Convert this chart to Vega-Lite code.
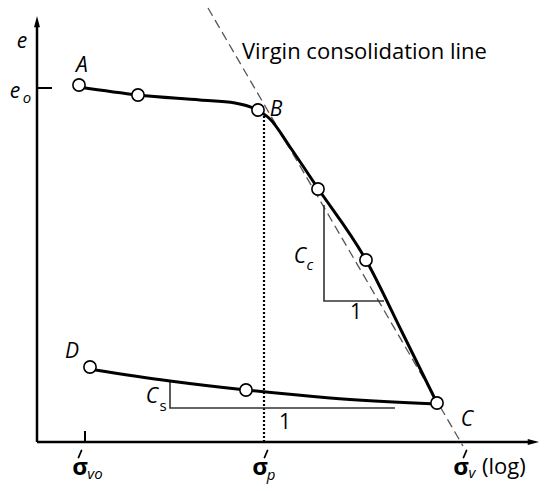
{
  "$schema": "https://vega.github.io/schema/vega-lite/v6.json",
  "width": 550,
  "height": 491,
  "autosize": {"type": "fit", "contains": "padding"},
  "padding": 0,
  "background": "white",
  "config": {"view": {"stroke": null}, "text": {"font": "Open Sans"}},
  "datasets": {
    "axes": [
      {"seg": "y", "o": 1, "x": 0, "y": 0},
      {"seg": "y", "o": 2, "x": 0, "y": 41.5},
      {"seg": "x", "o": 1, "x": 0, "y": 0},
      {"seg": "x", "o": 2, "x": 49.3, "y": 0}
    ],
    "ticks": [
      {"x": 0, "x2": 1.5, "y": 35.4, "y2": 35.4},
      {"x": 4.8, "x2": 4.8, "y": 0, "y2": 1.1}
    ],
    "primes": [
      {"x": 4.45, "y": -0.85, "x2": 4.15, "y2": -1.55},
      {"x": 23.05, "y": -0.85, "x2": 22.75, "y2": -1.55},
      {"x": 42.95, "y": -0.85, "x2": 42.65, "y2": -1.55}
    ],
    "curves": [
      {"b": "load", "x": 4.2, "y": 35.5},
      {"b": "load", "x": 10.1, "y": 34.7},
      {"b": "load", "x": 16.3, "y": 34.2},
      {"b": "load", "x": 19.8, "y": 33.9},
      {"b": "load", "x": 21.8, "y": 33.3},
      {"b": "load", "x": 23.3, "y": 32.3},
      {"b": "load", "x": 25.3, "y": 29.5},
      {"b": "load", "x": 28.0, "y": 25.5},
      {"b": "load", "x": 32.9, "y": 18.2},
      {"b": "load", "x": 36.5, "y": 11.0},
      {"b": "load", "x": 40.0, "y": 3.9},
      {"b": "unload", "x": 5.2, "y": 7.3},
      {"b": "unload", "x": 13.3, "y": 6.1},
      {"b": "unload", "x": 20.9, "y": 5.2},
      {"b": "unload", "x": 29.3, "y": 4.4},
      {"b": "unload", "x": 40.0, "y": 3.8}
    ],
    "tri": [
      {"t": "cc", "o": 1, "x": 28.7, "y": 23.7},
      {"t": "cc", "o": 2, "x": 28.7, "y": 14.1},
      {"t": "cc", "o": 3, "x": 34.7, "y": 14.1},
      {"t": "cs", "o": 1, "x": 13.3, "y": 6.0},
      {"t": "cs", "o": 2, "x": 13.3, "y": 3.4},
      {"t": "cs", "o": 3, "x": 35.8, "y": 3.4}
    ],
    "circles": [
      {"p": "A", "x": 4.2, "y": 35.7},
      {"p": "2", "x": 10.1, "y": 34.7},
      {"p": "B", "x": 22.1, "y": 33.2},
      {"p": "4", "x": 28.1, "y": 25.3},
      {"p": "5", "x": 32.9, "y": 18.2},
      {"p": "C", "x": 40.0, "y": 3.9},
      {"p": "7", "x": 20.9, "y": 5.2},
      {"p": "D", "x": 5.3, "y": 7.5}
    ],
    "bigItalic": [
      {"t": "e", "x": -1.5, "y": 40.0},
      {"t": "e", "x": -2.2, "y": 35.0},
      {"t": "A", "x": 4.5, "y": 37.6},
      {"t": "B", "x": 23.9, "y": 33.2},
      {"t": "C", "x": 43.0, "y": 2.2},
      {"t": "D", "x": 3.5, "y": 9.0},
      {"t": "C", "x": 26.3, "y": 18.5},
      {"t": "C", "x": 11.5, "y": 4.5}
    ],
    "subItalic": [
      {"t": "o", "x": -1.0, "y": 34.4},
      {"t": "c", "x": 27.3, "y": 17.7},
      {"t": "vo", "x": 5.8, "y": -3.2},
      {"t": "p", "x": 23.4, "y": -3.3},
      {"t": "v", "x": 43.5, "y": -3.1}
    ],
    "plain": [
      {"t": "1", "x": 31.9, "y": 12.9},
      {"t": "1", "x": 24.8, "y": 1.9}
    ],
    "subPlain": [
      {"t": "s", "x": 12.6, "y": 3.6}
    ],
    "sigmas": [
      {"t": "σ", "x": 4.3, "y": -2.6},
      {"t": "σ", "x": 22.3, "y": -2.6},
      {"t": "σ", "x": 42.4, "y": -2.6}
    ],
    "left": [
      {"t": "Virgin consolidation line", "x": 20.5, "y": 39.0},
      {"t": "(log)", "x": 44.5, "y": -2.5}
    ]
  },
  "layer": [
    {
      "data": {"name": "axes"},
      "mark": {"type": "line", "color": "black", "strokeWidth": 2.5},
      "encoding": {
        "x": {"field": "x", "type": "quantitative", "scale": {"domain": [-3.7, 51.3], "nice": false, "zero": false}, "axis": null},
        "y": {"field": "y", "type": "quantitative", "scale": {"domain": [-4.9, 44.2], "nice": false, "zero": false}, "axis": null},
        "detail": {"field": "seg"},
        "order": {"field": "o"}
      }
    },
    {
      "data": {"values": [{"x": 0, "y": 41.9}]},
      "mark": {"type": "point", "shape": "M0,-1L0.42,0.6L-0.42,0.6Z", "filled": true, "color": "black", "opacity": 1, "size": 200},
      "encoding": {"x": {"field": "x", "type": "quantitative"}, "y": {"field": "y", "type": "quantitative"}}
    },
    {
      "data": {"values": [{"x": 49.5, "y": 0}]},
      "mark": {"type": "point", "shape": "M1,0L-0.6,0.42L-0.6,-0.42Z", "filled": true, "color": "black", "opacity": 1, "size": 200},
      "encoding": {"x": {"field": "x", "type": "quantitative"}, "y": {"field": "y", "type": "quantitative"}}
    },
    {
      "data": {"name": "ticks"},
      "mark": {"type": "rule", "color": "black", "strokeWidth": 2},
      "encoding": {
        "x": {"field": "x", "type": "quantitative"}, "x2": {"field": "x2"},
        "y": {"field": "y", "type": "quantitative"}, "y2": {"field": "y2"}
      }
    },
    {
      "data": {"name": "primes"},
      "mark": {"type": "rule", "color": "black", "strokeWidth": 1.8, "strokeCap": "round"},
      "encoding": {
        "x": {"field": "x", "type": "quantitative"}, "x2": {"field": "x2"},
        "y": {"field": "y", "type": "quantitative"}, "y2": {"field": "y2"}
      }
    },
    {
      "data": {"values": [{"x": 17.1, "y": 43.4, "x2": 42.6, "y2": -0.4}]},
      "mark": {"type": "rule", "color": "#555555", "strokeWidth": 1.3, "strokeDash": [9, 5]},
      "encoding": {
        "x": {"field": "x", "type": "quantitative"}, "x2": {"field": "x2"},
        "y": {"field": "y", "type": "quantitative"}, "y2": {"field": "y2"}
      }
    },
    {
      "data": {"values": [{"x": 22.7, "y": 32.6, "y2": 0}]},
      "mark": {"type": "rule", "color": "black", "strokeWidth": 2.2, "strokeDash": [2, 2]},
      "encoding": {
        "x": {"field": "x", "type": "quantitative"},
        "y": {"field": "y", "type": "quantitative"}, "y2": {"field": "y2"}
      }
    },
    {
      "data": {"name": "tri"},
      "mark": {"type": "line", "color": "#333333", "strokeWidth": 1.6},
      "encoding": {
        "x": {"field": "x", "type": "quantitative"},
        "y": {"field": "y", "type": "quantitative"},
        "detail": {"field": "t"},
        "order": {"field": "o"}
      }
    },
    {
      "data": {"name": "curves"},
      "mark": {"type": "line", "color": "black", "strokeWidth": 3, "interpolate": "monotone"},
      "encoding": {
        "x": {"field": "x", "type": "quantitative"},
        "y": {"field": "y", "type": "quantitative"},
        "detail": {"field": "b"},
        "order": {"field": "x"}
      }
    },
    {
      "data": {"name": "circles"},
      "mark": {"type": "point", "shape": "circle", "filled": true, "fill": "white", "stroke": "black", "strokeWidth": 1.6, "opacity": 1, "size": 150},
      "encoding": {"x": {"field": "x", "type": "quantitative"}, "y": {"field": "y", "type": "quantitative"}}
    },
    {
      "data": {"name": "bigItalic"},
      "mark": {"type": "text", "fontSize": 21, "fontStyle": "italic", "color": "black", "align": "center", "baseline": "middle"},
      "encoding": {"x": {"field": "x", "type": "quantitative"}, "y": {"field": "y", "type": "quantitative"}, "text": {"field": "t"}}
    },
    {
      "data": {"name": "subItalic"},
      "mark": {"type": "text", "fontSize": 15, "fontStyle": "italic", "color": "black", "align": "center", "baseline": "middle"},
      "encoding": {"x": {"field": "x", "type": "quantitative"}, "y": {"field": "y", "type": "quantitative"}, "text": {"field": "t"}}
    },
    {
      "data": {"name": "plain"},
      "mark": {"type": "text", "fontSize": 21, "color": "black", "align": "center", "baseline": "middle"},
      "encoding": {"x": {"field": "x", "type": "quantitative"}, "y": {"field": "y", "type": "quantitative"}, "text": {"field": "t"}}
    },
    {
      "data": {"name": "subPlain"},
      "mark": {"type": "text", "fontSize": 15, "color": "black", "align": "center", "baseline": "middle"},
      "encoding": {"x": {"field": "x", "type": "quantitative"}, "y": {"field": "y", "type": "quantitative"}, "text": {"field": "t"}}
    },
    {
      "data": {"name": "sigmas"},
      "mark": {"type": "text", "fontSize": 24, "fontWeight": "bold", "color": "black", "align": "center", "baseline": "middle"},
      "encoding": {"x": {"field": "x", "type": "quantitative"}, "y": {"field": "y", "type": "quantitative"}, "text": {"field": "t"}}
    },
    {
      "data": {"name": "left"},
      "mark": {"type": "text", "fontSize": 22, "color": "black", "align": "left", "baseline": "middle"},
      "encoding": {"x": {"field": "x", "type": "quantitative"}, "y": {"field": "y", "type": "quantitative"}, "text": {"field": "t"}}
    }
  ]
}
